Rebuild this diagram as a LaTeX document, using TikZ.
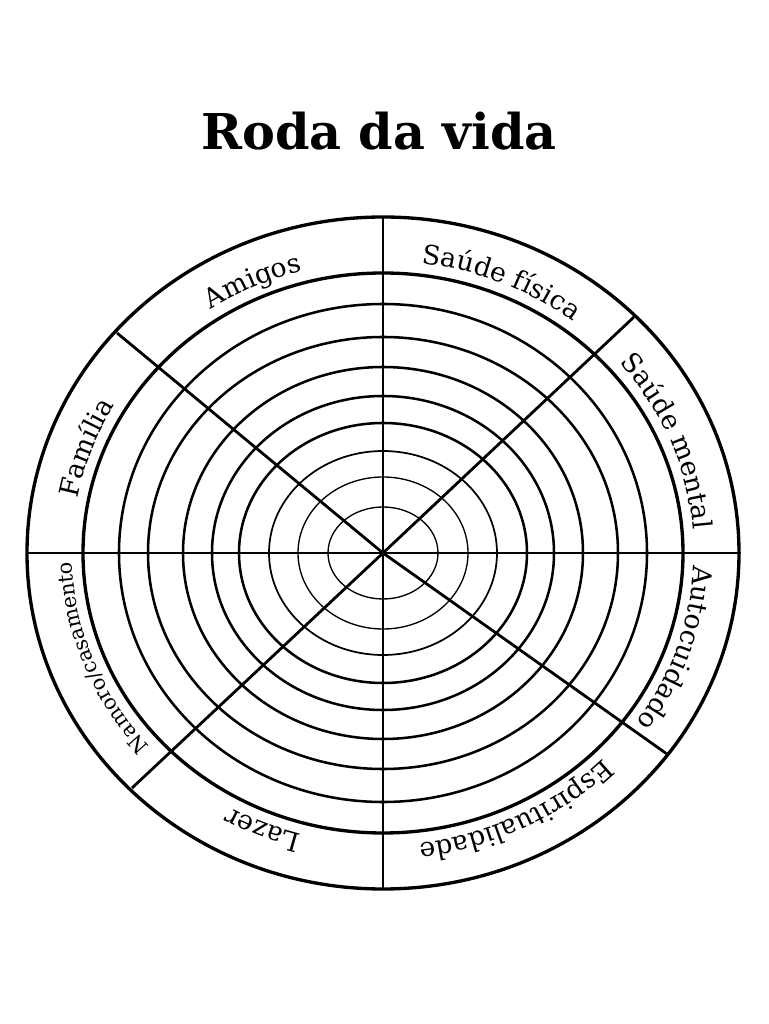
\documentclass[tikz,border=0pt]{standalone}
\usepackage{fontspec}
\setmainfont{DejaVu Serif}
\usetikzlibrary{decorations.text}
\newfontfamily\labfont{DejaVu Serif}
\begin{document}
\begin{tikzpicture}[x=0.75pt,y=0.75pt,
  thickring/.style={line width=2.5pt},
  midring/.style={line width=1.9pt},
  thinring/.style={line width=1pt},
  spoke/.style={line width=2.1pt},
  lab/.style={decorate,decoration={text along path,text align=center,
     text={|\fontsize{20pt}{20pt}\labfont|#1}}},
  smalllab/.style={decorate,decoration={text along path,text align=center,
     text={|\fontsize{15.5pt}{16pt}\labfont|#1}}}]
\useasboundingbox (-383,553) rectangle (385,-471);
\node[anchor=base,font=\fontsize{37pt}{37pt}\bfseries] (title) at (-4,403) {Roda da vida};
% rings
\draw[thickring] (0,0) ellipse[x radius=356,y radius=336];
\draw[thickring] (0,0) ellipse[x radius=300,y radius=280];
\foreach \rx/\ry in {264/249,235/216,200/186,171/157,144/130}
  \draw[midring] (0,0) ellipse[x radius=\rx,y radius=\ry];
\draw[line width=1.3pt] (0,0) ellipse[x radius=114,y radius=102];
\foreach \rx/\ry in {85/76,55/46}
  \draw[thinring] (0,0) ellipse[x radius=\rx,y radius=\ry];
% spokes
\coordinate (c) at (0,0);
\foreach \p in {(0,336),(0,-337),(-357,0),(358,0),(-266,220),(251,236),(284,-201),(-251,-235)}
  \draw[spoke] (c) -- \p;
% labels
\def\LR{311}\def\Lr{292}
\path[lab=Amigos] (139:{\LR} and {\Lr}) arc[start angle=139,end angle=90,x radius=\LR,y radius=\Lr];
\path[lab={Saúde física}] (90:{\LR} and {\Lr}) arc[start angle=90,end angle=45,x radius=\LR,y radius=\Lr];
\path[lab={Saúde mental}] (45:{\LR} and {\Lr}) arc[start angle=45,end angle=0,x radius=\LR,y radius=\Lr];
\path[lab={Autocuidado}] (0:{\LR} and {\Lr}) arc[start angle=0,end angle=-38,x radius=\LR,y radius=\Lr];
\path[lab={Espiritualidade}] (-38:{\LR} and {\Lr}) arc[start angle=-38,end angle=-90,x radius=\LR,y radius=\Lr];
\path[lab={Lazer}] (-90:{\LR} and {\Lr}) arc[start angle=-90,end angle=-135,x radius=\LR,y radius=\Lr];
\path[smalllab={Namoro/casamento}] (-136:{\LR} and {\Lr}) arc[start angle=-136,end angle=-181,x radius=\LR,y radius=\Lr];
\path[lab={Família}] (180:{\LR} and {\Lr}) arc[start angle=180,end angle=139,x radius=\LR,y radius=\Lr];
\end{tikzpicture}
\end{document}
